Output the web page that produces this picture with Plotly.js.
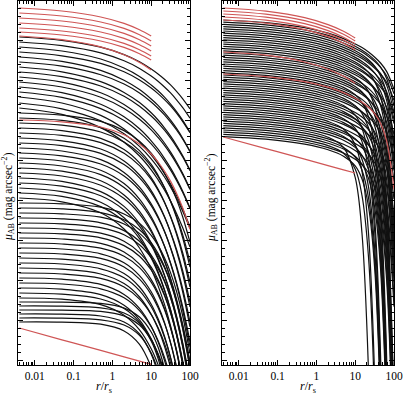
<!DOCTYPE html>
<html><head><meta charset="utf-8">
<script src="https://cdn.plot.ly/plotly-3.0.1.min.js"></script>
<style>html,body{margin:0;padding:0;background:#fff}#g{width:403px;height:395px}</style>
</head><body><div id="g"></div>
<script>
// radius grid r/r_s (sample points read along each profile)
const rGrid = [0.004, 0.05, 0.5, 2, 5, 10, 15, 22, 32, 45, 65, 100];
const tickVals = [0.01, 0.1, 1, 10, 100];
const tickText = ['0.01', '0.1', '1', '10', '100'];
const yTitle = '<i>μ</i><sub>AB</sub> (mag arcsec<sup>−2</sup>)';
const xTitle = '<i>r</i>/<i>r</i><sub>s</sub>';

// left panel, black profiles (mu_AB at rGrid)
const leftBlack = [
[15.85,16.02,16.36,16.73,17.09,17.45,17.70,17.96,18.26,18.57,18.94,19.44],
[16.10,16.28,16.64,17.04,17.42,17.80,18.06,18.35,18.66,18.99,19.38,19.91],
[16.35,16.55,16.95,17.40,17.82,18.25,18.54,18.86,19.22,19.58,20.02,20.61],
[16.60,16.79,17.17,17.59,18.00,18.40,18.68,18.98,19.31,19.66,20.08,20.64],
[16.85,17.07,17.52,18.01,18.48,18.95,19.27,19.63,20.02,20.42,20.91,21.56],
[17.10,17.31,17.74,18.20,18.65,19.10,19.41,19.74,20.12,20.50,20.96,21.58],
[17.35,17.59,18.08,18.62,19.13,19.64,20.00,20.39,20.82,21.26,21.79,22.51],
[17.60,17.83,18.30,18.81,19.31,19.80,20.14,20.51,20.92,21.34,21.85,22.53],
[17.85,18.11,18.64,19.23,19.79,20.34,20.73,21.15,21.62,22.10,22.68,23.45],
[18.10,18.35,18.86,19.42,19.96,20.49,20.87,21.27,21.72,22.18,22.73,23.48],
[18.35,18.63,19.21,19.84,20.44,21.04,21.46,21.92,22.42,22.94,23.56,24.40],
[18.60,18.87,19.43,20.03,20.62,21.19,21.60,22.04,22.52,23.02,23.62,24.43],
[18.85,19.15,19.77,20.45,21.10,21.74,22.20,22.68,23.22,23.78,24.45,25.35],
[19.15,19.44,20.04,20.69,21.32,21.94,22.38,22.85,23.37,23.91,24.56,25.43],
[19.40,19.72,20.38,21.11,21.80,22.49,22.98,23.50,24.08,24.67,25.39,26.35],
[19.65,19.76,20.07,20.53,21.06,21.66,22.13,22.66,23.29,23.97,24.85,26.11],
[19.90,20.02,20.38,20.91,21.53,22.22,22.76,23.37,24.10,24.88,25.90,27.35],
[20.15,20.26,20.60,21.10,21.67,22.32,22.82,23.39,24.07,24.80,25.75,27.11],
[20.40,20.53,20.92,21.48,22.14,22.88,23.45,24.10,24.88,25.72,26.80,28.35],
[20.65,20.77,21.13,21.66,22.28,22.97,23.51,24.12,24.85,25.63,26.65,28.10],
[20.90,21.04,21.45,22.05,22.75,23.53,24.14,24.83,25.66,26.55,27.70,29.35],
[21.15,21.28,21.67,22.23,22.89,23.63,24.20,24.85,25.63,26.47,27.55,29.10],
[21.40,21.55,21.98,22.62,23.36,24.19,24.83,25.56,26.44,27.38,28.60,30.34],
[21.65,21.79,22.20,22.80,23.50,24.28,24.89,25.58,26.41,27.30,28.45,30.10],
[21.90,22.05,22.51,23.18,23.96,24.84,25.52,26.30,27.21,28.21,29.50,31.34],
[22.15,22.30,22.73,23.37,24.11,24.94,25.58,26.31,27.19,28.13,29.35,31.09],
[22.40,22.56,23.04,23.75,24.57,25.50,26.21,27.03,27.99,29.05,30.40,32.34],
[22.65,22.80,23.26,23.93,24.71,25.59,26.27,27.05,27.96,28.96,30.25,32.09],
[22.90,23.07,23.58,24.32,25.18,26.15,26.90,27.76,28.77,29.88,31.30,33.33],
[23.15,23.31,23.79,24.50,25.32,26.25,26.96,27.78,28.74,29.80,31.15,33.09],
[23.40,23.58,24.11,24.89,25.79,26.81,27.59,28.49,29.55,30.71,32.20,34.33],
[23.65,23.82,24.33,25.07,25.93,26.90,27.65,28.51,29.52,30.63,32.05,34.08],
[23.90,24.09,24.64,25.45,26.40,27.46,28.28,29.22,30.33,31.54,33.10],
[24.15,24.19,24.36,24.70,25.17,25.77,26.27,26.89,27.67,28.57,29.80,31.68],
[24.40,24.44,24.63,24.99,25.49,26.13,26.67,27.33,28.17,29.13,30.46,32.47],
[24.65,24.69,24.86,25.20,25.67,26.27,26.77,27.39,28.17,29.07,30.30,32.18],
[24.90,24.94,25.14,25.53,26.06,26.75,27.32,28.03,28.92,29.95,31.36,33.51],
[25.15,25.19,25.38,25.74,26.24,26.88,27.42,28.08,28.92,29.88,31.21,33.22],
[25.40,25.45,25.66,26.06,26.63,27.36,27.97,28.73,29.68,30.76,32.26],
[25.65,25.69,25.89,26.28,26.81,27.50,28.07,28.78,29.67,30.70,32.11,34.26],
[25.90,25.95,26.17,26.60,27.21,27.98,28.63,29.42,30.43,31.58,33.17],
[26.15,26.20,26.41,26.81,27.38,28.11,28.72,29.48,30.43,31.51,33.01],
[26.40,26.45,26.69,27.14,27.78,28.59,29.28,30.12,31.18,32.40],
[26.65,26.70,26.92,27.35,27.96,28.73,29.38,30.17,31.18,32.33],
[26.90,26.96,27.20,27.68,28.35,29.21,29.93,30.81,31.93,33.21],
[27.15,27.20,27.44,27.89,28.53,29.34,30.03,30.87,31.93,33.15],
[27.40,27.46,27.70,28.18,28.85,29.71,30.43,31.31,32.43],
[27.65,27.70,27.92,28.35,28.96,29.73,30.38,31.17,32.18,33.33],
[27.90,27.96,28.22,28.72,29.42,30.32,31.08,32.01,33.18],
[28.15,28.20,28.44,28.89,29.53,30.34,31.03,31.87,32.93],
[28.40,28.46,28.73,29.26,29.99,30.94,31.73,32.70],
[28.65,28.71,28.95,29.43,30.10,30.96,31.68,32.56],
[28.90,28.96,29.23,29.76,30.49,31.44,32.23,33.20],
[29.10,29.11,29.17,29.40,29.85,30.60,31.35,32.40],
[29.30,29.31,29.39,29.65,30.17,31.05,31.92,33.15],
[29.50,29.51,29.57,29.80,30.25,31.00,31.75,32.80],
[29.70,29.71,29.80,30.10,30.70,31.70,32.70],
[29.90,29.91,29.99,30.25,30.77,31.65,32.52],
[30.10,30.11,30.21,30.55,31.22,32.35]
];

// left panel, red profiles
const leftRed = [
[14.40,14.55,14.85,15.17,15.49,15.80],
[14.65,14.80,15.10,15.42,15.74,16.05],
[14.90,15.05,15.35,15.67,15.99,16.30],
[15.15,15.30,15.60,15.92,16.24,16.55],
[15.40,15.55,15.85,16.17,16.49,16.80],
[15.60,15.75,16.05,16.37,16.69,17.00],
[15.80,15.98,16.34,16.74,17.12,17.50],
[20.00,20.09,20.35,20.74,21.20,21.70,22.10,22.55,23.08,23.66,24.40,25.47],
[30.40,30.99,31.52,31.84,32.06,32.22]
];

// right panel, black profiles
const rightBlack = [
[15.00,15.13,15.38,15.66,15.93,16.20,16.38,16.60,16.86,17.15,17.58,18.47],
[15.11,15.24,15.49,15.77,16.04,16.31,16.51,16.73,17.01,17.35,17.94,19.30],
[15.22,15.35,15.60,15.88,16.15,16.42,16.60,16.82,17.08,17.37,17.80,18.69],
[15.33,15.46,15.71,15.99,16.26,16.54,16.74,16.99,17.32,17.79,18.70,21.10],
[15.44,15.57,15.82,16.10,16.37,16.64,16.84,17.06,17.34,17.68,18.27,19.63],
[15.55,15.68,15.93,16.21,16.48,16.75,16.93,17.15,17.41,17.70,18.13,19.02],
[15.66,15.79,16.04,16.32,16.59,16.87,17.07,17.32,17.65,18.12,19.03,21.43],
[15.77,15.90,16.15,16.43,16.70,16.97,17.17,17.39,17.67,18.01,18.60,19.96],
[15.88,16.01,16.26,16.54,16.81,17.10,17.32,17.62,18.08,18.83,20.48,25.26],
[15.99,16.12,16.37,16.65,16.92,17.19,17.39,17.61,17.89,18.23,18.82,20.18],
[16.10,16.23,16.48,16.76,17.03,17.31,17.51,17.76,18.09,18.56,19.47,21.87],
[16.21,16.34,16.59,16.87,17.14,17.41,17.59,17.81,18.07,18.36,18.79,19.68],
[16.32,16.45,16.70,16.98,17.25,17.54,17.76,18.06,18.52,19.27,20.92,25.70],
[16.43,16.56,16.81,17.09,17.36,17.64,17.84,18.09,18.42,18.89,19.80,22.20],
[16.54,16.67,16.92,17.20,17.47,17.74,17.94,18.16,18.44,18.78,19.37,20.73],
[16.65,16.78,17.03,17.31,17.58,17.89,18.16,18.57,19.32,20.70,24.02,34.14],
[16.76,16.89,17.14,17.42,17.69,17.97,18.17,18.42,18.75,19.22,20.13,22.53],
[16.87,17.00,17.25,17.53,17.80,18.09,18.31,18.61,19.07,19.82,21.47,26.25],
[16.98,17.11,17.36,17.64,17.91,18.18,18.38,18.60,18.88,19.22,19.81,21.17],
[17.09,17.22,17.47,17.75,18.02,18.33,18.60,19.01,19.76,21.14,24.46,34.58],
[17.20,17.33,17.58,17.86,18.13,18.42,18.64,18.94,19.40,20.15,21.80,26.58],
[17.31,17.44,17.69,17.97,18.24,18.52,18.72,18.97,19.30,19.77,20.68,23.08],
[17.42,17.55,17.80,18.08,18.37,18.73,19.12,19.83,21.32,24.37,32.04,56.32],
[17.53,17.66,17.91,18.19,18.46,18.75,18.97,19.27,19.73,20.48,22.13,26.91],
[17.64,17.77,18.02,18.30,18.57,18.88,19.15,19.56,20.31,21.69,25.01,35.13],
[17.75,17.88,18.13,18.41,18.68,18.95,19.15,19.37,19.65,19.99,20.58,21.94],
[17.86,17.99,18.24,18.52,18.79,19.08,19.30,19.60,20.06,20.81,22.46,27.24],
[17.97,18.10,18.35,18.63,18.92,19.28,19.67,20.38,21.87,24.92,32.59],
[18.08,18.21,18.46,18.74,19.01,19.32,19.59,20.00,20.75,22.13,25.45,35.57],
[18.19,18.32,18.57,18.85,19.12,19.40,19.60,19.85,20.18,20.65,21.56,23.96],
[18.30,18.43,18.68,18.96,19.28,19.76,20.42,21.79,24.97,31.73,49.20],
[18.41,18.54,18.79,19.07,19.34,19.63,19.85,20.15,20.61,21.36,23.01,27.79],
[18.52,18.65,18.90,19.18,19.45,19.76,20.03,20.44,21.19,22.57,25.89,36.01],
[18.63,18.76,19.01,19.29,19.58,19.94,20.33,21.04,22.53,25.58,33.25],
[18.74,18.87,19.12,19.40,19.67,19.96,20.18,20.48,20.94,21.69,23.34,28.12],
[18.85,18.98,19.23,19.51,19.78,20.09,20.36,20.77,21.52,22.90,26.22,36.34],
[18.96,19.09,19.34,19.62,19.94,20.42,21.08,22.45,25.63,32.39],
[19.07,19.20,19.45,19.73,20.00,20.28,20.48,20.73,21.06,21.53,22.44,24.84],
[19.18,19.31,19.56,19.84,20.13,20.49,20.88,21.59,23.08,26.13,33.80],
[19.29,19.42,19.67,19.95,20.22,20.53,20.80,21.21,21.96,23.34,26.66,36.78],
[19.40,19.53,19.78,20.07,20.45,21.24,22.57,25.63,33.06],
[19.51,19.64,19.89,20.17,20.44,20.73,20.95,21.25,21.71,22.46,24.11,28.89],
[19.62,19.75,20.00,20.28,20.57,20.93,21.32,22.03,23.52,26.57,34.24],
[19.73,19.86,20.11,20.39,20.66,20.97,21.24,21.65,22.40,23.78,27.10,37.22],
[19.84,19.97,20.22,20.50,20.82,21.30,21.96,23.33,26.51,33.27],
[19.95,20.08,20.33,20.61,20.88,21.17,21.39,21.69,22.15,22.90,24.55,29.33],
[20.06,20.19,20.44,20.72,21.01,21.37,21.76,22.47,23.96,27.01,34.68],
[20.17,20.30,20.55,20.86,21.37,22.87,25.69,32.53],
[20.28,20.41,20.66,20.94,21.21,21.52,21.79,22.20,22.95,24.33,27.65,37.77],
[20.39,20.52,20.77,21.05,21.37,21.85,22.51,23.88,27.06,33.82],
[20.50,20.63,20.88,21.16,21.45,21.81,22.20,22.91,24.40,27.45,35.12],
[20.61,20.74,20.99,21.28,21.66,22.45,23.78,26.84,34.27],
[20.72,20.85,21.10,21.38,21.65,21.96,22.23,22.64,23.39,24.77,28.09,38.21],
[20.83,20.96,21.21,21.49,21.81,22.29,22.95,24.32,27.50,34.26]
];

// right panel, red profiles
const rightRed = [
[14.40,14.56,14.88,15.23,15.56,15.90],
[14.55,14.71,15.03,15.38,15.71,16.05],
[14.70,14.86,15.18,15.53,15.86,16.20],
[14.85,15.01,15.33,15.68,16.01,16.35],
[15.00,15.16,15.48,15.83,16.16,16.50],
[16.60,16.76,17.10,17.46,17.81,18.16],
[17.70,17.83,18.08,18.36,18.63,18.91,19.11,19.36,19.69,20.16,21.07,23.47],
[20.85,21.43,21.96,22.28,22.49,22.65]
];

const BLACK = '#111111', RED = '#cf5555';
const traces = [];
function addSet(set, xa, ya, color, w) {
  set.forEach(v => traces.push({
    x: rGrid.slice(0, v.length), y: v, xaxis: xa, yaxis: ya,
    type: 'scatter', mode: 'lines', hoverinfo: 'skip', showlegend: false,
    line: {color: color, width: w, shape: 'spline', smoothing: 1}
  }));
}
addSet(leftBlack, 'x', 'y', BLACK, 1.2);
addSet(leftRed, 'x', 'y', RED, 1.2);
addSet(rightBlack, 'x2', 'y2', BLACK, 1.2);
addSet(rightRed, 'x2', 'y2', RED, 1.2);

const serif = 'Liberation Serif, Times New Roman, serif';
function xAxis(dom, anchor) {
  return {
    domain: dom, anchor: anchor, type: 'log', range: [Math.log10(0.0037), 2],
    tickmode: 'array', tickvals: tickVals, ticktext: tickText,
    ticks: 'inside', ticklen: 5, tickwidth: 1, tickcolor: '#000',
    minor: {ticks: 'inside', ticklen: 3, tickwidth: 1, tickcolor: '#000', dtick: 'D1', showgrid: false},
    showline: true, linecolor: '#000', linewidth: 1, mirror: 'allticks',
    showgrid: false, zeroline: false,
    tickfont: {family: serif, size: 11.5, color: '#000'},
    title: {text: xTitle, font: {family: serif, size: 12, color: '#000'}, standoff: 5}
  };
}
function yAxis(anchor) {
  return {
    anchor: anchor, domain: [0, 1], range: [32.25, 14.05],
    tick0: 14, dtick: 2, ticks: 'inside', ticklen: 5, tickwidth: 1, tickcolor: '#000',
    minor: {ticks: 'inside', ticklen: 3, tickwidth: 1, tickcolor: '#000', dtick: 0.4, showgrid: false},
    showticklabels: false, showline: true, linecolor: '#000', linewidth: 1, mirror: 'allticks',
    showgrid: false, zeroline: false
  };
}
function yLabel(px) {
  return {text: yTitle, xref: 'paper', yref: 'paper', x: px / 403, y: (365 - 197) / 364,
    xanchor: 'center', yanchor: 'middle', textangle: -90, showarrow: false,
    font: {family: serif, size: 11.5, color: '#000'}};
}
const layout = {
  width: 403, height: 395, margin: {l: 0, r: 0, t: 1, b: 30},
  paper_bgcolor: '#fff', plot_bgcolor: '#fff', showlegend: false,
  xaxis: xAxis([18/403, 190/403], 'y'),
  yaxis: yAxis('x'),
  xaxis2: xAxis([222/403, 394/403], 'y2'),
  yaxis2: yAxis('x2'),
  annotations: [yLabel(8), yLabel(211)]
};
Plotly.newPlot('g', traces, layout, {staticPlot: true, displayModeBar: false});
</script></body></html>
